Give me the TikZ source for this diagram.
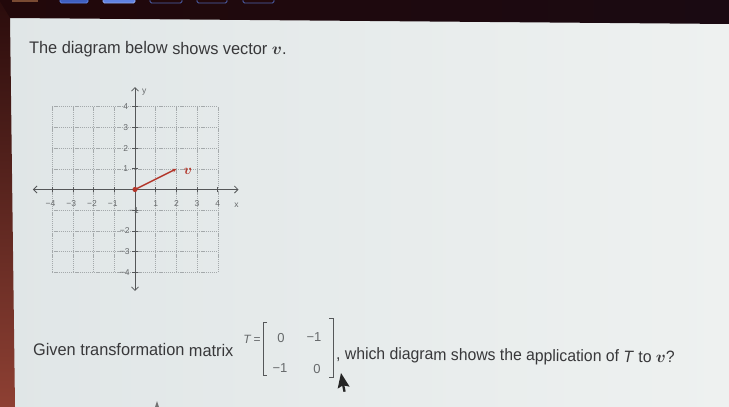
\RequirePackage{fix-cm}
\documentclass[tikz,border=0pt]{standalone}
\usepackage{fontspec}
\usepackage{amsmath}
\setmainfont{Liberation Sans}
\newfontfamily\qfont[FakeStretch=0.97]{Liberation Sans}
\newfontfamily\qfontb[FakeStretch=0.955]{Liberation Sans}
\usetikzlibrary{arrows.meta}
\definecolor{bandc}{HTML}{22080A}
\definecolor{bandr}{HTML}{1A0A12}
\definecolor{stripT}{HTML}{2A0C0C}
\definecolor{stripB}{HTML}{8E4033}
\definecolor{bgL}{HTML}{E0E6E7}
\definecolor{bgR}{HTML}{EEF1F0}
\definecolor{txt}{HTML}{38383A}
\definecolor{gridc}{HTML}{A4A9AB}
\definecolor{axc}{HTML}{555759}
\definecolor{lblc}{HTML}{66696B}
\definecolor{vecc}{HTML}{B3372B}
\definecolor{tabA}{HTML}{3F5FC0}
\definecolor{tabB}{HTML}{5F82E2}
\definecolor{tabO}{HTML}{4D63B0}
\definecolor{tabbrown}{HTML}{7A4A32}
\tikzset{
  qtext/.style={font=\qfont\fontsize{16.8}{19}\selectfont, text=txt, inner sep=0pt},
  qtextb/.style={font=\qfontb\fontsize{16.5}{19}\selectfont, text=txt, inner sep=0pt},
  gridline/.style={draw=gridc, line width=0.6pt, dash pattern=on 1.2pt off 0.9pt},
  axis/.style={draw=axc, line width=0.8pt},
  axarrows/.style={axis, {Straight Barb[length=3.5pt,width=7pt]}-{Straight Barb[length=3.5pt,width=7pt]}},
  ticklbl/.style={font=\fontsize{8.5}{9}\selectfont, text=lblc, inner sep=0pt},
  vecline/.style={draw=vecc, line width=1.5pt, -{Stealth[length=4pt,width=4pt]}},
  mtxentry/.style={font=\fontsize{13}{14}\selectfont, text=lblc, inner sep=0pt},
  bracket/.style={draw=axc, line width=0.7pt},
  tabbox/.style={rounded corners=1.5pt, line width=0.8pt}
}
\begin{document}
\begin{tikzpicture}[x=1pt,y=-1pt]
\useasboundingbox (0,0) rectangle (729,407);
% background
\shade[left color=bgL, right color=bgR] (0,0) rectangle (729,407);
% top band
\shade[left color=bandc, right color=bandr] (0,-1) -- (730,-1) -- (730,24) -- (10,18) -- (0,18) -- cycle;
% left strip
\shade[top color=stripT, bottom color=stripB] (-1,0) -- (10,18) -- (15,407) -- (-1,407) -- cycle;
% tabs
\fill[tabbrown] (12,-2) rectangle (38,2);
\filldraw[tabbox, fill=tabA, draw=tabB] (60,-3) rectangle (88,3);
\filldraw[tabbox, fill=tabB, draw=tabB!70!white] (103,-3) rectangle (135,3);
\filldraw[tabbox, fill=bandc, draw=tabO] (150,-3) rectangle (182,3);
\filldraw[tabbox, fill=bandc, draw=tabO] (197,-3) rectangle (227,3);
\filldraw[tabbox, fill=bandc, draw=tabO] (243,-3) rectangle (274,3);

% title text
\node[qtext, anchor=base west, rotate=-0.45] (title) at (29,53) {The diagram below shows vector $\boldsymbol{v}$.};

% graph
\begin{scope}[shift={(135,189.5)}, x=20.7pt, y=20.7pt]
  \foreach \k in {-4,...,4} {
    \draw[gridline] (\k,-4) -- (\k,4);
    \draw[gridline] (-4,\k) -- (4,\k);
  }
  \coordinate (xl) at (-4.93,0);
  \coordinate (xr) at (5.0,0);
  \coordinate (yb) at (0,-4.9);
  \coordinate (yt) at (0,4.95);
  \draw[axarrows] (xl) -- (xr);
  \draw[axarrows] (yb) -- (yt);
  \foreach \k in {-4,-3,-2,-1,1,2,3,4} {
    \draw[axis] (\k,-0.13) -- (\k,0.13);
    \draw[axis] (-0.13,\k) -- (0.13,\k);
  }
  \foreach \k in {1,2,3,4} {
    \node[ticklbl] at (\k,-0.66) {\k};
    \node[ticklbl] at (-0.45,\k) {\k};
    \node[ticklbl] at (-\k-0.08,-0.66) {−\k};
  }
  \foreach \k in {2,3,4} {
    \node[ticklbl] at (-0.5,-\k) {−\k};
  }
  \node[ticklbl] at (-0.05,-1.0) {−1};
  \node[ticklbl] (xlab) at (4.9,-0.75) {x};
  \node[ticklbl] (ylab) at (0.45,4.7) {y};
  \coordinate (O) at (0,0);
  \coordinate (V) at (2,1);
  \draw[vecline] (O) -- (V);
  \fill[vecc] (O) circle (2.6pt);
  \node[text=vecc, inner sep=0pt, font=\fontsize{14}{15}\selectfont] (vlab) at (2.55,0.86) {$\boldsymbol{v}$};
\end{scope}

% bottom line
\node[qtext, anchor=base west, rotate=-0.4] (given) at (33,355) {Given transformation matrix};
\node[inner sep=0pt, text=lblc, font=\fontsize{12}{13}\selectfont] (Teq) at (252,339) {\textit{T}\,=};
\draw[bracket] (267,322) -- (263,322) -- (263,375) -- (267,375);
\draw[bracket] (329,318) -- (333,318) -- (333,377) -- (329,377);
\node[mtxentry] (m11) at (281,338) {0};
\node[mtxentry] (m12) at (314,337) {−1};
\node[mtxentry] (m21) at (280,368) {−1};
\node[mtxentry] (m22) at (317,369) {0};
\node[qtextb, anchor=base west, rotate=-0.6] (which) at (336,359) {, which diagram shows the application of \textit{T} to $\boldsymbol{v}$?};

% mouse cursor
\begin{scope}[shift={(341,373)}, rotate=-12]
  \fill[black!85] (0,0) -- (0,16) -- (3.8,12.3) -- (6.3,18) -- (8.4,17.1) -- (6,11.6) -- (11.3,11.6) -- cycle;
\end{scope}
\fill[black!55] (155,407) -- (157,401) -- (159,407) -- cycle;
\end{tikzpicture}
\end{document}
